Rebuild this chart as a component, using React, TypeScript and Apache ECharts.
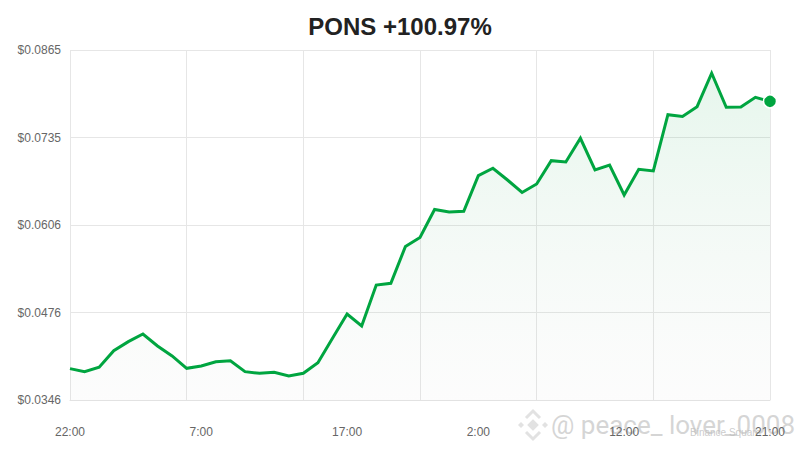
import * as echarts from "echarts";
import { useEffect, useRef } from "react";

const title = "PONS +100.97%";

// x categories: only the labelled hours carry text
const times = [
  "22:00", "", "", "", "", "", "", "", "",
  "7:00", "", "", "", "", "", "", "", "", "",
  "17:00", "", "", "", "", "", "", "", "",
  "2:00", "", "", "", "", "", "", "", "", "",
  "12:00", "", "", "", "", "", "", "", "", "",
  "21:00",
];

const prices = [
  0.03925, 0.0388, 0.03945, 0.04191, 0.04325, 0.04439, 0.04261, 0.04113, 0.0393, 0.03964,
  0.04028, 0.04043, 0.0388, 0.03856, 0.03871, 0.03816, 0.03856, 0.04013, 0.04375, 0.04735,
  0.04557, 0.05165, 0.05191, 0.05736, 0.0587, 0.06285, 0.06248, 0.06258, 0.06786, 0.06896,
  0.06722, 0.06537, 0.06663, 0.07009, 0.06989, 0.07341, 0.06871, 0.06945, 0.065, 0.06881,
  0.06856, 0.07691, 0.07664, 0.07809, 0.08305, 0.078, 0.07805, 0.07949, 0.07888,
];

const yMin = 0.0346;
const yMax = 0.0865;
const yTickLabels = ["$0.0346", "$0.0476", "$0.0606", "$0.0735", "$0.0865"];

const GREEN = "#00a540";
const FONT = "'Liberation Sans', Arial, sans-serif";

export default function App() {
  const chartRef = useRef<HTMLDivElement>(null);

  useEffect(() => {
    if (!chartRef.current) return;
    const chart = echarts.init(chartRef.current, null, { renderer: "svg" });

    // the axis counts ticks from 0, so plot prices above the bottom tick
    const step = (yMax - yMin) / (yTickLabels.length - 1);
    const last = prices.length - 1;

    const option: echarts.EChartsOption = {
      animation: false,
      backgroundColor: "#ffffff",
      textStyle: { fontFamily: FONT },
      title: {
        text: title,
        left: "center",
        top: 9,
        textStyle: { fontSize: 24, fontWeight: "bold", color: "#222222", fontFamily: FONT },
      },
      grid: { left: 70, right: 30, top: 50, bottom: 50 },
      xAxis: {
        type: "category",
        data: times,
        boundaryGap: false,
        axisLine: { show: true, lineStyle: { color: "#e2e2e2", width: 1 } },
        axisTick: { show: false },
        axisLabel: {
          interval: 0,
          margin: 26,
          color: "#666666",
          fontSize: 12,
          fontFamily: FONT,
        },
        splitLine: {
          show: true,
          interval: (i: number) => i % 8 === 0,
          lineStyle: { color: "#e6e6e6", width: 1 },
        },
      },
      yAxis: {
        type: "value",
        min: 0,
        max: yMax - yMin,
        interval: step,
        axisLine: { show: false },
        axisTick: { show: false },
        axisLabel: {
          margin: 9,
          color: "#666666",
          fontSize: 12,
          fontFamily: FONT,
          formatter: (v: number) => yTickLabels[Math.round(v / step)] ?? "",
        },
        splitLine: { show: true, lineStyle: { color: "#e6e6e6", width: 1 } },
      },
      series: [
        {
          type: "line",
          data: prices.map((p) => p - yMin),
          clip: false,
          showSymbol: true,
          showAllSymbol: true,
          symbol: "circle",
          symbolSize: (_v: unknown, params: { dataIndex: number }) =>
            params.dataIndex === last ? 13 : 0,
          itemStyle: { color: GREEN, borderColor: "#ffffff", borderWidth: 1.5 },
          lineStyle: { color: GREEN, width: 3, join: "miter" },
          areaStyle: {
            color: new echarts.graphic.LinearGradient(0, 0, 0, 1, [
              { offset: 0, color: "rgba(0,165,64,0.14)" },
              { offset: 1, color: "rgba(190,190,190,0.06)" },
            ]),
          },
        },
      ],
      // screenshot watermark in the bottom-right corner
      graphic: [
        {
          type: "group",
          z: 0,
          silent: true,
          children: [
            {
              type: "polygon",
              shape: { points: [[533, 419], [539, 425], [533, 431], [527, 425]] },
              style: { fill: "#e2e2e2", stroke: "#f5f5f5", lineWidth: 1 },
            },
            {
              type: "polygon",
              shape: { points: [[521, 422], [524, 425], [521, 428], [518, 425]] },
              style: { fill: "#e2e2e2" },
            },
            {
              type: "polygon",
              shape: { points: [[545, 422], [548, 425], [545, 428], [542, 425]] },
              style: { fill: "#e2e2e2" },
            },
            {
              type: "polyline",
              shape: { points: [[526, 418], [533, 411], [540, 418]] },
              style: { stroke: "#e2e2e2", lineWidth: 3, fill: "none" },
            },
            {
              type: "polyline",
              shape: { points: [[526, 432], [533, 439], [540, 432]] },
              style: { stroke: "#e2e2e2", lineWidth: 3, fill: "none" },
            },
            {
              type: "text",
              x: 551,
              y: 425,
              style: {
                text: "@ peace_ lover_0008",
                font: "26px Roboto, sans-serif",
                fill: "rgba(200,200,200,0.75)",
                verticalAlign: "middle",
                align: "left",
              },
            },
            {
              type: "text",
              x: 690,
              y: 432,
              style: {
                text: "Binance Square",
                font: "10px 'Liberation Sans', Arial, sans-serif",
                fill: "rgba(190,190,190,0.8)",
                verticalAlign: "middle",
                align: "left",
              },
            },
          ],
        },
      ],
    };

    chart.setOption(option);
    return () => chart.dispose();
  }, []);

  return (
    <div
      ref={chartRef}
      style={{ position: "fixed", left: 0, top: 0, width: 800, height: 450 }}
    />
  );
}
